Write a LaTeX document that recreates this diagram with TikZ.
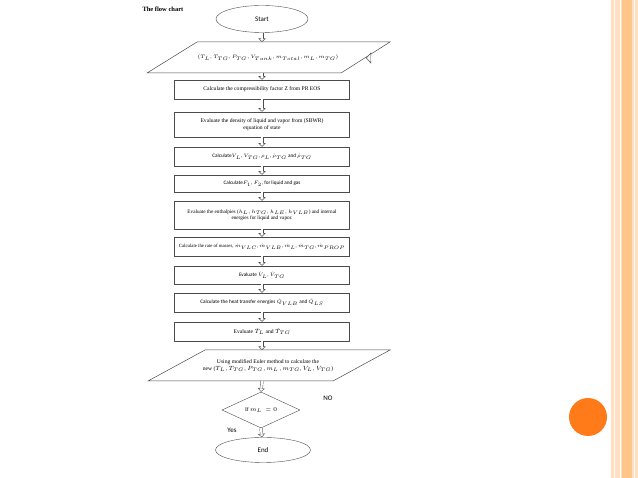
\documentclass[tikz,border=0pt]{standalone}
\usepackage{fontspec}
\setmainfont{Liberation Serif}
\newfontfamily\carl{Carlito}
\usetikzlibrary{shapes.geometric,arrows.meta}
\begin{document}
\begin{tikzpicture}[x=1pt,y=-1pt,
  box/.style={draw=black!70,line width=0.5pt,minimum width=175pt,inner sep=1pt,align=center,font=\fontsize{5.6}{6.6}\selectfont},
  ha/.style={draw=black!70,line width=3pt,-{Triangle[open,fill=white,length=3.5pt,width=7pt,line width=0.4pt]},
     postaction={draw=white,line width=2.2pt,-,shorten >=3.2pt}},
  hb/.style={draw=black!70,line width=4.8pt,-{Triangle[open,fill=white,length=5pt,width=11pt,line width=0.5pt]},
     postaction={draw=white,line width=3.8pt,-,shorten >=4.6pt}},
  lab/.style={font=\carl\fontsize{7}{8}\selectfont}]
\useasboundingbox (0,0) rectangle (638,478);
\fill[white] (0,0) rectangle (638,478);
% right decoration
\fill[orange!25] (611,0) rectangle (638,478);
\fill[orange!45] (622,0) rectangle (632,478);
\draw[white,line width=1pt] (614,0) -- (614,478) (620,0) -- (620,478) (634,0) -- (634,478);
\node[circle,fill=orange!85!red!90,minimum size=38pt,inner sep=0] (dot) at (588,417) {};
\node[font=\bfseries\fontsize{6.5}{7}\selectfont,anchor=west] (title) at (139,9) {The flow chart};
\node[ellipse,draw=black!70,minimum width=92pt,minimum height=27pt,lab] (start) at (262,19) {Start};
\draw[black!70,line width=0.5pt] (197,42) -- (390,42) -- (341,73) -- (147,73) -- cycle;
\node[font=\fontsize{5}{6}\selectfont] (in) at (268,57.5) {$(T_L, T_{TG}, P_{TG}, V_{Tank}, m_{Total}, m_L, m_{TG})$};
\coordinate (inTop) at (262,42); \coordinate (inBot) at (262,73); \coordinate (inR) at (366,58);
\node[box,minimum height=19pt] (b1) at (262,89.5) {Calculate the compressibility factor Z from PR EOS};
\node[box,minimum height=25pt] (b2) at (262,124.5) {Evaluate the density of liquid and vapor from (SBWR)\\equation of state};
\node[box,minimum height=19pt,font=\carl\fontsize{5.2}{6.2}\selectfont] (b3) at (262,156.5) {Calculate$V_L$, $V_{TG}$, $\rho_L$, $\dot\rho_{TG}$ and $\dot\rho_{TG}$};
\node[box,minimum height=17pt,font=\carl\fontsize{5.2}{6.2}\selectfont] (b4) at (262,183.5) {Calculate$F_1$, $F_2$, for liquid and gas};
\node[box,minimum height=28pt,font=\fontsize{5.2}{6.4}\selectfont] (b5) at (262,215) {Evaluate the enthalpies ($h_L, h_{TG}, h_{LE}, h_{VLB}$) and internal\\energies for liquid and vapor.};
\node[box,minimum height=19pt,font=\fontsize{4.8}{6}\selectfont] (b6) at (262,246.5) {Calculate the rate of masses, $\dot m_{VLC}$, $\dot m_{VLB}$, $\dot m_L$, $\dot m_{TG}$, $\dot m_{PROP}$};
\node[box,minimum height=18pt,font=\carl\fontsize{5.2}{6.2}\selectfont] (b7) at (262,275) {Evaluate $\dot V_L$, $\dot V_{TG}$};
\node[box,minimum height=19pt,font=\carl\fontsize{5.2}{6.2}\selectfont] (b8) at (262,302.5) {Calculate the heat transfer energies $\dot Q_{VLB}$ and $\dot Q_{LS}$};
\node[box,minimum height=19pt] (b9) at (262,331.5) {Evaluate $\dot T_L$ and $\dot T_{TG}$};
\draw[black!70,line width=0.5pt] (205,350) -- (390,350) -- (333,381) -- (148,381) -- cycle;
\node[font=\fontsize{5.6}{6.6}\selectfont,align=center] (eu) at (268,365.5) {Using modified Euler method to calculate the\\new ($T_L, T_{TG}, P_{TG}, m_L$ , $m_{TG}$, $V_L, V_{TG}$)};
\coordinate (euTop) at (262,350); \coordinate (euBot) at (262,381);
\node[diamond,draw=black!70,minimum width=78pt,minimum height=36pt,inner sep=0,aspect=2.2,font=\fontsize{5.6}{6.6}\selectfont] (dec) at (261,410) {If $m_L\ =0$};
\node[ellipse,draw=black!70,minimum width=95pt,minimum height=25pt,lab] (end) at (263,450) {End};
\node[lab] (no) at (328,398) {NO};
\node[lab] (yes) at (232,430) {Yes};
\draw[ha] (start) -- (inTop);
\draw[ha] (inBot) -- (b1);
\draw[ha] (b1) -- (b2);
\draw[ha] (b2) -- (b3);
\draw[ha] (b3) -- (b4);
\draw[ha] (b4) -- (b5);
\draw[ha] (b5) -- (b6);
\draw[ha] (b6) -- (b7);
\draw[ha] (b7) -- (b8);
\draw[ha] (b8) -- (b9);
\draw[ha] (b9) -- (euTop);
\draw[ha] (euBot) -- (dec.north);
\draw[ha] (dec.south) -- (end);
\coordinate (c1) at (400,410); \coordinate (c2) at (400,58);
\draw[hb] (dec.east) -- (c1) -- (c2) -- (inR);
\end{tikzpicture}
\end{document}
